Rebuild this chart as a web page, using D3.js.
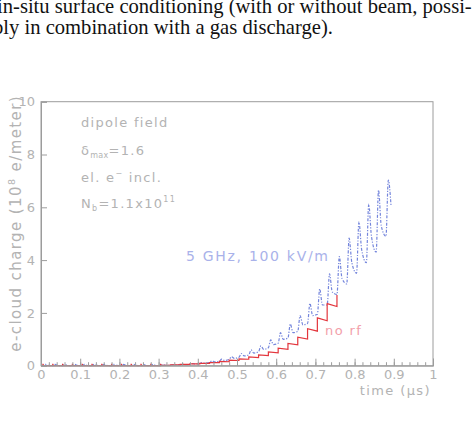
<!DOCTYPE html>
<html><head><meta charset="utf-8">
<script src="https://cdn.jsdelivr.net/npm/d3@7"></script>
<style>body{margin:0;background:#fff;overflow:hidden} svg{display:block}</style>
</head><body>
<svg id="c" width="474" height="448"></svg>
<script>
// ---- data ----
const xTicks = [0,0.1,0.2,0.3,0.4,0.5,0.6,0.7,0.8,0.9,1];
const yTicks = [0,2,4,6,8,10];
const bunchTimes = [0.005,0.03,0.055,0.08,0.105,0.13,0.155,0.18,0.205,0.23,0.255,0.28,0.305,
  0.33,0.355,0.38,0.405,0.43,0.455,0.48,0.505,0.53,0.555,0.58,0.605,0.63,0.655,0.68,0.705,0.73,0.755,
  0.78,0.805,0.83,0.855,0.88];
// "no rf" (red): spike at bunch, level after bunch, level before next bunch
const redSpike = [0.07,0.07,0.07,0.07,0.07,0.07,0.07,0.07,0.07,0.07,0.07,0.07,0.07,
  0.03,0.05,0.07,0.09,0.12,0.16,0.21,0.26,0.33,0.41,0.52,0.66,0.84,1.08,1.40,1.81,2.35,2.68];
const redLevel = [0.01,0.01,0.01,0.01,0.01,0.01,0.01,0.01,0.01,0.01,0.01,0.01,0.01,
  0.03,0.05,0.07,0.09,0.12,0.16,0.21,0.26,0.33,0.41,0.52,0.66,0.84,1.08,1.40,1.81,2.35,2.68];
const redDecay = [0.005,0.005,0.005,0.005,0.005,0.005,0.005,0.005,0.005,0.005,0.005,0.005,0.01,
  0.028,0.047,0.066,0.085,0.113,0.15,0.197,0.245,0.31,0.385,0.49,0.62,0.79,1.01,1.31,1.70,2.24];
// "5 GHz, 100 kV/m" (blue): trough at bunch, peak, value at end of fall
const blueLow = [0,0,0,0,0,0,0,0,0,0,0,0,0.005,
  0.02,0.03,0.05,0.08,0.12,0.17,0.24,0.32,0.41,0.53,0.68,0.85,1.05,1.3,1.6,1.95,2.3,2.7,3.1,3.5,3.9,4.3,4.9];
const bluePeak = [0.05,0.05,0.05,0.05,0.05,0.05,0.05,0.05,0.05,0.05,0.05,0.05,0.05,
  0.035,0.05,0.08,0.12,0.18,0.25,0.34,0.46,0.60,0.75,0.98,1.25,1.58,1.90,2.36,2.91,3.48,4.13,4.83,5.45,6.12,6.65,7.03];
const blueRight = [0.01,0.01,0.01,0.01,0.01,0.01,0.01,0.01,0.01,0.01,0.01,0.01,0.01,
  0.03,0.04,0.065,0.1,0.145,0.2,0.28,0.37,0.48,0.62,0.8,1.0,1.25,1.55,1.9,2.3,2.8,3.3,3.9,4.4,4.9,5.3,6.05];

// ---- layout ----
const svg = d3.select('#c');
const L = 41, R = 433, T = 101.7, B = 365.7;
const x = d3.scaleLinear().domain([0,1]).range([L,R]);
const y = d3.scaleLinear().domain([0,10]).range([B,T]);
const gray = '#b3b3b3', axisCol = '#9c9c9c';
const FF = '"DejaVu Sans", sans-serif';

// header text
const hdr = svg.append('g').attr('font-family','"Liberation Serif", "Times New Roman", serif')
  .attr('font-size',20.6).attr('fill','#111');
hdr.append('text').attr('x',-3).attr('y',12.5).text('in-situ surface conditioning (with or without beam, possi-');
hdr.append('text').attr('x',-7).attr('y',33.5).text('bly in combination with a gas discharge).');

// curves
const redPts = [[0,0]];
bunchTimes.forEach((t,i) => {
  if (i >= redSpike.length) return;
  redPts.push([t, i===0 ? 0 : redDecay[i-1]]);
  redPts.push([t, redSpike[i]]);
  if (redLevel[i] !== redSpike[i]) redPts.push([t+0.0015, redLevel[i]]);
  if (i < redDecay.length) redPts.push([bunchTimes[i+1], redDecay[i]]);
});
const bluePts = [[0,0]];
bunchTimes.forEach((t,i) => {
  bluePts.push([t, blueLow[i]]);
  bluePts.push([t+0.006, bluePeak[i]]);
  bluePts.push([t+0.013, blueRight[i]]);
});
const lineLin = d3.line().x(d=>x(d[0])).y(d=>y(d[1]));
const lineSm = d3.line().x(d=>x(d[0])).y(d=>y(d[1])).curve(d3.curveMonotoneX);
svg.append('path').attr('d',lineSm(bluePts)).attr('fill','none')
  .attr('stroke','#7586dc').attr('stroke-width',1.2).attr('stroke-dasharray','3,1.5,1.2,1.5');
svg.append('path').attr('d',lineLin(redPts)).attr('fill','none')
  .attr('stroke','#e3363d').attr('stroke-width',1.2);

// frame
svg.append('rect').attr('x',L).attr('y',T).attr('width',R-L).attr('height',B-T)
  .attr('fill','none').attr('stroke',axisCol).attr('stroke-width',1);

// x axis
const minorX = d3.range(0,51).map(i=>i/50);
svg.append('g').attr('transform',`translate(0,${B})`)
  .call(d3.axisBottom(x).tickValues(minorX).tickSize(-3.5).tickFormat(''))
  .call(g=>{g.select('.domain').remove(); g.selectAll('line').attr('stroke',axisCol);});
const gx = svg.append('g').attr('transform',`translate(0,${B})`)
  .call(d3.axisBottom(x).tickValues(xTicks).tickSize(-7).tickPadding(4.5).tickFormat(d3.format('~g')));
gx.select('.domain').attr('stroke',axisCol);
gx.selectAll('line').attr('stroke',axisCol);
gx.selectAll('text').attr('fill',gray).attr('font-family',FF).attr('font-size',13);

// y axis
const gy = svg.append('g').attr('transform',`translate(${L},0)`)
  .call(d3.axisLeft(y).tickValues(yTicks).tickSize(-6).tickPadding(6).tickFormat(d3.format('d')));
gy.select('.domain').attr('stroke',axisCol);
gy.selectAll('line').attr('stroke',axisCol);
gy.selectAll('text').attr('fill',gray).attr('font-family',FF).attr('font-size',13);

// axis titles
svg.append('text').attr('x',431).attr('y',394.5).attr('text-anchor','end')
  .attr('font-family',FF).attr('font-size',13).attr('letter-spacing',1.4).attr('fill',gray)
  .text('time (μs)');
const yt = svg.append('text').attr('transform','translate(21,95) rotate(-90)').attr('text-anchor','end')
  .attr('font-family',FF).attr('font-size',15).attr('letter-spacing',1.4).attr('fill',gray);
yt.append('tspan').text('e-cloud charge (10');
yt.append('tspan').attr('font-size',9.5).attr('dy',-6.5).text('8');
yt.append('tspan').attr('dy',6.5).text(' e/meter)');

// annotations
const ann = svg.append('g').attr('font-family',FF).attr('font-size',13).attr('letter-spacing',1.3).attr('fill',gray);
ann.append('text').attr('x',81).attr('y',127).text('dipole field');
const t2 = ann.append('text').attr('x',81).attr('y',155);
t2.append('tspan').text('δ');
t2.append('tspan').attr('font-size',8).attr('dy',3).attr('letter-spacing',0.3).text('max');
t2.append('tspan').attr('dy',-3).text('=1.6');
const t3 = ann.append('text').attr('x',81).attr('y',181.5);
t3.append('tspan').text('el. e');
t3.append('tspan').attr('font-size',8).attr('dy',-6).text('−');
t3.append('tspan').attr('dy',6).text(' incl.');
const t4 = ann.append('text').attr('x',81).attr('y',208);
t4.append('tspan').text('N');
t4.append('tspan').attr('font-size',8).attr('dy',3).text('b');
t4.append('tspan').attr('dy',-3).text('=1.1x10');
t4.append('tspan').attr('font-size',8).attr('dy',-6).text('11');
svg.append('text').attr('x',186).attr('y',261).attr('font-family',FF).attr('font-size',14)
  .attr('letter-spacing',1.7).attr('fill','#a9b2ea').text('5 GHz, 100 kV/m');
svg.append('text').attr('x',325).attr('y',335).attr('font-family',FF).attr('font-size',13)
  .attr('letter-spacing',1.4).attr('fill','#f2a0aa').text('no rf');
</script>
</body></html>
